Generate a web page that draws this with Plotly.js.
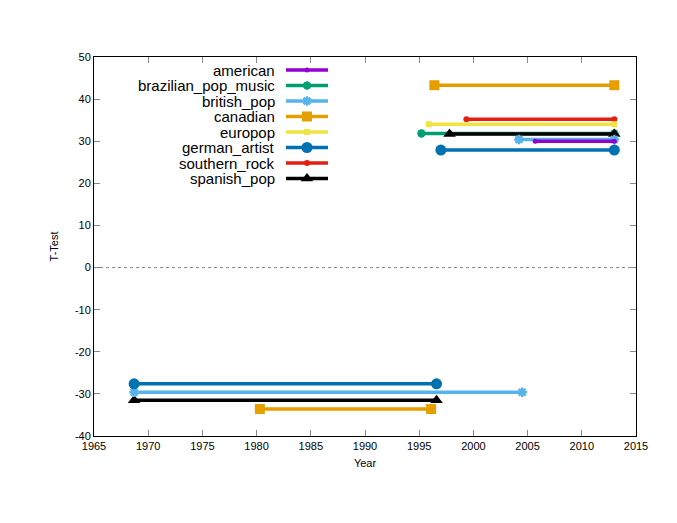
<!DOCTYPE html>
<html>
<head>
<meta charset="utf-8">
<script src="https://cdn.plot.ly/plotly-3.0.1.min.js"></script>
<style>html,body{margin:0;padding:0;background:#fff;}#chart{width:677px;height:523px;}</style>
</head>
<body>
<div id="chart"></div>
<script>
// Series names, in legend order
const seriesNames = ["american","brazilian_pop_music","british_pop","canadian","europop","german_artist","southern_rock","spanish_pop"];

// Each series: segments given as start/end years and T-test value
const americanX = [[2005.7, 2013]];
const americanY = [[30.0, 30.0]];
const brazilianX = [[1995.2, 2013]];
const brazilianY = [[31.85, 31.85]];
const britishX = [[2004.2, 2013], [1968.7, 2004.5]];
const britishY = [[30.4, 30.4], [-29.6, -29.6]];
const canadianX = [[1996.4, 2013], [1980.3, 1996.1]];
const canadianY = [[43.3, 43.3], [-33.6, -33.6]];
const europopX = [[1995.9, 2013]];
const europopY = [[34.05, 34.05]];
const germanX = [[1997.0, 2013], [1968.7, 1996.6]];
const germanY = [[27.9, 27.9], [-27.6, -27.6]];
const southernX = [[1999.35, 2013]];
const southernY = [[35.2, 35.2]];
const spanishX = [[1997.8, 2013], [1968.7, 1996.6]];
const spanishY = [[31.7, 31.7], [-31.5, -31.5]];

const xTicks = [1965,1970,1975,1980,1985,1990,1995,2000,2005,2010,2015];
const yTicks = [-40,-30,-20,-10,0,10,20,30,40,50];

// Styles
const colors = ["#9400D3","#009E73","#56B4E9","#E69F00","#F0E442","#0072B2","#E51E10","#000000"];
const symbols = ["circle","asterisk-open","asterisk-open","square","square","circle","circle","triangle-up"];
const msizes = [5,7,8,10,6,11,6,11];

const segX = [americanX, brazilianX, britishX, canadianX, europopX, germanX, southernX, spanishX];
const segY = [americanY, brazilianY, britishY, canadianY, europopY, germanY, southernY, spanishY];

// Draw order (so overlaps resemble reference)
const drawOrder = [3,6,4,1,7,2,0,5];

const traces = [];
drawOrder.forEach(i => {
  const xs = [], ys = [];
  segX[i].forEach((seg, k) => {
    xs.push(seg[0], seg[1], null);
    ys.push(segY[i][k][0], segY[i][k][1], null);
  });
  const open = symbols[i].indexOf("open") >= 0;
  traces.push({
    x: xs, y: ys, type: "scatter", mode: "lines+markers",
    line: {color: colors[i], width: 3.5},
    marker: {symbol: symbols[i], size: msizes[i], color: colors[i],
             line: {color: colors[i], width: open ? 2.5 : 0}},
    showlegend: false, hoverinfo: "skip", connectgaps: false,
    xaxis: "x", yaxis: "y"
  });
});

// Custom gnuplot-style key (text right-aligned, sample to the right)
const plotL = 94, plotR = 636, plotT = 57, plotB = 436;
const pw = plotR - plotL, ph = plotB - plotT;
const keyTextRight = (277 - plotL) / pw;
const keyLine0 = (286 - plotL) / pw, keyLine1 = (328 - plotL) / pw, keyMark = (307 - plotL) / pw;
const keyTop = (plotB - 70) / ph, keyStep = 15.5 / ph;

const annotations = [];
seriesNames.forEach((name, i) => {
  const yy = keyTop - i * keyStep;
  traces.push({
    x: [keyLine0, keyLine1], y: [yy, yy], type: "scatter", mode: "lines",
    line: {color: colors[i], width: 3.5}, showlegend: false, hoverinfo: "skip",
    xaxis: "x2", yaxis: "y2"
  });
  const open = symbols[i].indexOf("open") >= 0;
  traces.push({
    x: [keyMark], y: [yy], type: "scatter", mode: "markers",
    marker: {symbol: symbols[i], size: msizes[i], color: colors[i],
             line: {color: colors[i], width: open ? 2.5 : 0}},
    showlegend: false, hoverinfo: "skip", xaxis: "x2", yaxis: "y2"
  });
  annotations.push({
    xref: "paper", yref: "paper", x: keyTextRight, y: yy,
    xanchor: "right", yanchor: "middle", text: name, showarrow: false,
    font: {family: "Liberation Sans, Arial, sans-serif", size: 15, color: "#000"}
  });
});

const axisFont = {family: "Liberation Sans, Arial, sans-serif", size: 11, color: "#000"};

const layout = {
  width: 677, height: 523,
  margin: {l: plotL, r: 677 - plotR, t: plotT, b: 523 - plotB},
  paper_bgcolor: "#fff", plot_bgcolor: "#fff",
  showlegend: false,
  xaxis: {
    range: [1965, 2015], tickvals: xTicks, ticktext: xTicks.map(String),
    ticks: "inside", ticklen: 6, tickcolor: "#888", mirror: "allticks",
    showline: true, linecolor: "#000", linewidth: 1, showgrid: false, zeroline: false,
    tickfont: axisFont,
    title: {text: "Year", font: axisFont, standoff: 8}
  },
  yaxis: {
    range: [-40, 50], tickvals: yTicks, ticktext: yTicks.map(String),
    ticks: "inside", ticklen: 6, tickcolor: "#888", mirror: "allticks",
    showline: true, linecolor: "#000", linewidth: 1, showgrid: false, zeroline: false,
    tickfont: axisFont,
    title: {text: "T-Test", font: axisFont, standoff: 14}
  },
  xaxis2: {range: [0, 1], overlaying: "x", anchor: "y2", visible: false, fixedrange: true},
  yaxis2: {range: [0, 1], overlaying: "y", anchor: "x2", visible: false, fixedrange: true},
  shapes: [{
    type: "line", xref: "paper", yref: "y", x0: 0, x1: 1, y0: 0, y1: 0,
    line: {color: "#888", width: 1, dash: "dot"}, layer: "below"
  }],
  annotations: annotations
};

Plotly.newPlot("chart", traces, layout, {displayModeBar: false, staticPlot: true});
</script>
</body>
</html>
